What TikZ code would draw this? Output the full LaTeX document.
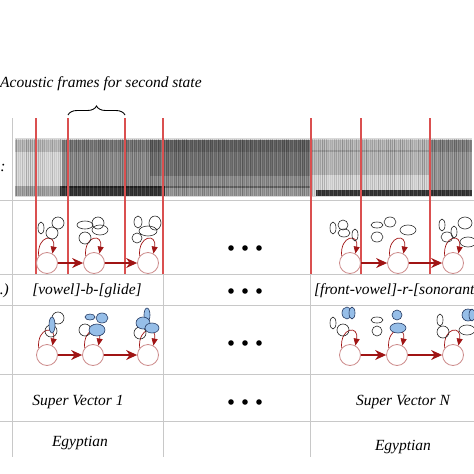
\documentclass[tikz,border=0pt]{standalone}
\usepackage{fontspec}
\setmainfont{Liberation Serif}
\usetikzlibrary{arrows.meta,decorations.pathreplacing}
\definecolor{gridgray}{RGB}{200,200,200}
\definecolor{cutred}{RGB}{218,80,80}
\definecolor{statered}{RGB}{205,140,140}
\definecolor{arrowred}{RGB}{160,20,20}
\definecolor{mixblue}{RGB}{150,190,232}
\definecolor{mixdark}{RGB}{35,55,95}
\tikzset{
  grid/.style={
    draw=gridgray,
    line width=.9pt,
  },
  cut/.style={
    draw=cutred,
    line width=1.5pt,
  },
  state/.style={
    draw=statered,
    fill=white,
    circle,
    line width=.8pt,
    minimum size=21pt,
    inner sep=0pt,
  },
  trans/.style={
    draw=arrowred,
    line width=1.1pt,
    -{Stealth[length=11pt,width=10pt]},
  },
  selfloop/.style={
    draw=arrowred,
    line width=.7pt,
    -{Triangle[length=7pt,width=6pt]},
  },
  mix/.style={
    draw=black!85,
    line width=.6pt,
  },
  mixb/.style={
    draw=mixdark,
    fill=mixblue,
    line width=.6pt,
  },
  lab/.style={
    font=\fontsize{15.5}{18}\selectfont\itshape,
    inner sep=0pt,
  },
}

\begin{document}
\begin{tikzpicture}[x=1pt,y=1pt]
  \useasboundingbox (0,0) rectangle (474,-474);
  \clip (0,0) rectangle (474,-474);

  % spectrogram
  \fill[gray!30] (15,-138) rectangle (472,-197);
  \fill[black,opacity=.35] (62,-140) rectangle (312,-188);
  \fill[black,opacity=.2] (150,-140) rectangle (312,-176);
  \fill[black,opacity=.15] (15,-140) rectangle (472,-152);
  \fill[black,opacity=.15] (312,-150) rectangle (430,-175);
  \fill[black,opacity=.3] (430,-140) rectangle (472,-190);
  \fill[black,opacity=.25] (15,-186) rectangle (60,-196);
  \fill[black,opacity=.75] (60,-186) rectangle (165,-196);
  \fill[black,opacity=.3] (165,-186) rectangle (312,-196);
  \fill[black,opacity=.75] (316,-190) rectangle (472,-196);
  \pgfmathsetseed{7}
  \foreach \x in {16,18,...,471} {
    \pgfmathsetmacro\op{0.05+0.2*rnd}
    \draw[black,opacity=\op,line width=.8pt] (\x,-139) -- (\x,-196);
  }
  \foreach \x in {17,21,...,471}
    \draw[white,opacity=.15,line width=.6pt] (\x,-139) -- (\x,-196);

  % table
  \draw[grid] (12,-118) -- (12,-457);
  \draw[grid] (163,-274) -- (163,-457);
  \draw[grid] (310,-274) -- (310,-457);
  \foreach \y in {200,274,305,374,421}
    \draw[grid] (0,-\y) -- (474,-\y);
  \foreach \x in {36,68,125,163,311,361,430}
    \draw[cut] (\x,-118) -- (\x,-274);

  % frames of the second state
  \coordinate (fa) at (68,-115);
  \coordinate (fb) at (125,-115);
  \draw[line width=.9pt,decorate,decoration={brace,amplitude=9pt}] (fa) -- (fb);
  \node[lab,anchor=west] (acoustic) at (0,-84) {Acoustic frames for second state};

  \node[lab,anchor=center] (colon) at (3,-168) {:};
  \node[lab,anchor=east] (paren) at (9,-291) {.)};

  % HMM, first row
  \node[state] (a1) at (47,-263) {};
  \node[state] (a2) at (94,-263) {};
  \node[state] (a3) at (148,-263) {};
  \node[state] (b1) at (350,-263) {};
  \node[state] (b2) at (398,-263) {};
  \node[state] (b3) at (453,-263) {};
  % HMM, second row
  \node[state] (c1) at (47,-355) {};
  \node[state] (c2) at (93,-355) {};
  \node[state] (c3) at (148,-355) {};
  \node[state] (d1) at (350,-355) {};
  \node[state] (d2) at (397,-355) {};
  \node[state] (d3) at (453,-355) {};

  \foreach \s in {a1,a2,a3,b1,b2,b3,c1,c2,c3,d1,d2,d3}
    \draw[selfloop] (\s.140) .. controls +(95:21) and +(80:21) .. (\s.60);
  \foreach \u/\v in {a1/a2,a2/a3,b1/b2,b2/b3,c1/c2,c2/c3,d1/d2,d2/d3}
    \draw[trans] (\u) -- (\v);

  % mixtures, first row
  \foreach \x/\y/\a/\b in {41/228/3/6,58/223/6/6,52/233/6/6,
      85/225/8/4,98/223/6/6,100/230/8/5,85/238/6/6,
      138/222/4/6,155/223/6/7,148/231/9/5,137/238/5/5,
      333/228/3/6,343/225/5/5,344/233/6/4,355/235/3/6,
      377/225/6/3,390/222/6/5,408/230/8/5,377/237/6/5,
      442/225/3/6,454/232/3/6,465/223/7/6,447/237/6/5,468/242/8/5}
    \draw[mix] (\x,-\y) ellipse [x radius=\a, y radius=\b];

  % mixtures, second row
  \foreach \x/\y/\a/\b in {58/318/6/6,51/331/6/6,
      85/330/6/6,140/333/6/6,
      333/323/3/6,343/330/6/6,
      377/320/6/3,377/331/5/5,
      440/320/3/6,443/332/6/6,467/330/8/5}
    \draw[mix] (\x,-\y) ellipse [x radius=\a, y radius=\b];
  \foreach \x/\y/\a/\b in {52/325/3/8,
      90/317/5/3,102/318/6/5,97/330/8/6,
      147/315/3/7,143/323/7/6,152/328/7/5,
      347/313/5/6,352/313/3/6,
      397/315/5/5,398/328/8/5,
      468/315/6/6,472/315/3/6}
    \draw[mixb] (\x,-\y) ellipse [x radius=\a, y radius=\b];

  % continuation dots
  \foreach \y in {248,291,343,402}
    \foreach \x in {231,245,259}
      \fill (\x,-\y) circle (2.8);

  % texts
  \node[lab] (ctx1) at (87,-291) {[vowel]-b-[glide]};
  \node[lab,anchor=west] (ctxN) at (314,-291) {[front-vowel]-r-[sonorant]};
  \node[lab] (sv1) at (78,-402) {Super Vector 1};
  \node[lab] (svN) at (403,-402) {Super Vector N};
  \node[lab] (eg1) at (80,-443) {Egyptian};
  \node[lab] (egN) at (403,-447) {Egyptian};
\end{tikzpicture}
\end{document}
